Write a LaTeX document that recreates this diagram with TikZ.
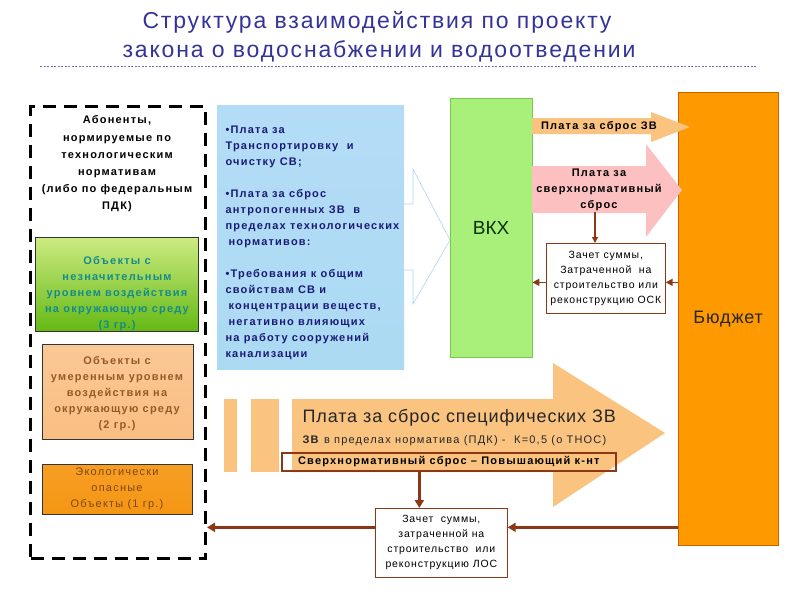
\documentclass[tikz,border=0pt]{standalone}
\usepackage{fontspec}
\setmainfont{Liberation Sans}
\newfontfamily\lsT[LetterSpace=8]{Liberation Sans}
\newfontfamily\lsB[LetterSpace=11]{Liberation Sans}
\newfontfamily\lsR[LetterSpace=8]{Liberation Sans}
\newfontfamily\lsL[LetterSpace=5]{Liberation Sans}
\usetikzlibrary{arrows.meta}
\definecolor{titleblue}{RGB}{51,51,153}
\definecolor{brn}{RGB}{140,56,20}
\definecolor{navy}{RGB}{26,26,120}
\definecolor{teal2}{RGB}{20,140,140}
\definecolor{brtext}{RGB}{150,90,40}
\definecolor{br3}{RGB}{130,70,20}
\definecolor{lorange}{RGB}{250,195,128}
\definecolor{pinkf}{RGB}{252,192,192}
\definecolor{vkxg}{RGB}{168,240,122}
\definecolor{budg}{RGB}{255,153,0}
\tikzset{
  title/.style={font=\lsT\fontsize{23}{27}\selectfont, text=titleblue},
  boxc/.style={draw, anchor=north west, inner sep=0pt},
  brarrow/.style={draw=brn, line width=1.6pt, -{Triangle[length=7pt,width=7pt]}},
  brthick/.style={draw=brn, line width=2.6pt, -{Triangle[length=8pt,width=9pt]}},
  smalltxt/.style={font=\lsR\fontsize{10.5}{15}\selectfont, align=center},
  boldtxt/.style={font=\lsB\bfseries\fontsize{11}{16}\selectfont, align=center},
}
\begin{document}
\begin{tikzpicture}[x=1pt,y=-1pt]
\useasboundingbox (0,0) rectangle (800,600);
% title
\node[title] (t1) at (377,22) {Структура взаимодействия по проекту};
\node[title] (t2) at (379,51) {закона о водоснабжении и водоотведении};
\draw[titleblue!70, line width=0.6pt, dash pattern=on 2pt off 1.5pt] (40,66) -- (757,66);

% left dashed box
\node[boxc, line width=3pt, dash pattern=on 13pt off 8pt, minimum width=175pt, minimum height=452pt] (ab) at (29,105) {};
\node[boldtxt, font=\lsB\bfseries\fontsize{11}{17.2}\selectfont] (abt) at (117,164) {Абоненты,\\нормируемые по\\технологическим\\нормативам\\(либо по федеральным\\ПДК)};

\node[boxc, draw=black!80, top color={rgb,255:red,205;green,235;blue,130}, bottom color={rgb,255:red,100;green,185;blue,20}, minimum width=163pt, minimum height=94pt] (g3) at (35,237) {};
\node[boldtxt, text=teal2] (g3t) at (117,294) {Объекты с\\незначительным\\уровнем воздействия\\на окружающую среду\\(3 гр.)};

\node[boxc, draw=black!80, top color={rgb,255:red,250;green,200;blue,150}, middle color={rgb,255:red,255;green,246;blue,236}, bottom color={rgb,255:red,250;green,190;blue,130}, minimum width=151pt, minimum height=95pt] (g2) at (42,344) {};
\node[boldtxt, text=brtext] (g2t) at (117,394) {Объекты с\\умеренным уровнем\\воздействия на\\окружающую среду\\(2 гр.)};

\node[boxc, draw=black!80, top color={rgb,255:red,246;green,158;blue,36}, middle color={rgb,255:red,255;green,248;blue,220}, bottom color={rgb,255:red,245;green,150;blue,20}, minimum width=150pt, minimum height=50pt] (g1) at (42,464) {};
\node[align=center, text=br3, font=\lsB\fontsize{11}{16}\selectfont] (g1t) at (117,489) {Экологически\\опасные\\Объекты (1 гр.)};

% blue box with arrow
\path[top color={rgb,255:red,180;green,220;blue,246}, middle color={rgb,255:red,208;green,235;blue,251}, bottom color={rgb,255:red,172;green,218;blue,243}] (217,105) rectangle (404,369);
\draw[draw={rgb,255:red,170;green,215;blue,240}, fill=white, line width=0.6pt] (404,204) -- (413,204) -- (413,169) -- (450,240) -- (413,304) -- (413,270) -- (404,270);
\node[anchor=west, align=left, text=navy, font=\lsB\bfseries\fontsize{11}{16}\selectfont] (bt) at (222,243) {•Плата за\\Транспортировку\ \ и\\очистку СВ;\\[16pt]•Плата за сброс\\антропогенных ЗВ\ \ в\\пределах технологических\\\hspace{3pt}нормативов:\\[16pt]•Требования к общим\\свойствам СВ и\\\hspace{3pt}концентрации веществ,\\\hspace{3pt}негативно влияющих\\на работу сооружений\\канализации};

% VKX and budget
\node[boxc, draw={rgb,255:red,120;green,200;blue,80}, fill=vkxg, minimum width=82pt, minimum height=259pt, font=\fontsize{19}{22}\selectfont, text={rgb,255:red,10;green,50;blue,10}] (vkx) at (450,98) {ВКХ};
\node[boxc, draw={rgb,255:red,200;green,100;blue,0}, fill=budg, minimum width=100pt, minimum height=453pt, font=\lsL\fontsize{18}{22}\selectfont, text=black!85] (bud) at (678,92) {Бюджет};

% top arrows
\path[fill=lorange] (532,118) -- (651,118) -- (651,112) -- (690,127) -- (651,142) -- (651,134) -- (532,134) -- cycle;
\node[font=\lsB\bfseries\fontsize{11}{13}\selectfont] (a1t) at (599,127) {Плата за сброс ЗВ};
\path[fill=pinkf] (532,166) -- (646,166) -- (646,144) -- (682,190) -- (646,237) -- (646,213) -- (532,213) -- cycle;
\node[boldtxt] (a2t) at (599,190) {Плата за\\сверхнормативный\\сброс};
\coordinate (pk) at (595,212);

\node[boxc, draw=brn, fill=white, line width=0.7pt, minimum width=119pt, minimum height=70pt, smalltxt] (osk) at (546,243) {Зачет суммы,\\Затраченной\ \ на\\строительство или\\реконструкцию ОСК};
\draw[brn, line width=1.3pt, -{Triangle[length=6pt,width=6pt]}] (pk) -- (pk |- osk.north);
\draw[brarrow] ([yshift=-4pt]osk.west) -- ([yshift=-4pt]osk.west -| vkx.east);
\draw[brarrow] ([yshift=-4pt]osk.east -| bud.west) -- ([yshift=-4pt]osk.east);

% big orange arrow
\fill[lorange] (224,399) rectangle (237,472);
\fill[lorange] (251,399) rectangle (279,472);
\path[fill=lorange] (292,399) -- (553,399) -- (553,363) -- (665,433) -- (553,507) -- (553,472) -- (292,472) -- cycle;
\node[anchor=west, font=\lsL\fontsize{18}{20}\selectfont, text=black!85] (bigt) at (299,418) {Плата за сброс специфических ЗВ};
\node[anchor=west, font=\lsB\fontsize{11}{12}\selectfont, text=black!85] (bigt2) at (299,441) {\textbf{ЗВ} в пределах норматива (ПДК) -\ \ К=0,5 (о ТНОС)};
\node[boxc, draw=brn, line width=1.6pt, minimum width=334pt, minimum height=18pt, font=\lsB\bfseries\fontsize{11}{13}\selectfont] (sn) at (281,452) {Сверхнормативный сброс – Повышающий к-нт};

\node[boxc, draw=brn, fill=white, line width=0.7pt, minimum width=132pt, minimum height=69pt, smalltxt] (loc) at (375,508) {Зачет\ \ суммы,\\затраченной на\\строительство\ \ или\\реконструкцию ЛОС};
\coordinate (d1) at ([xshift=-22pt]loc.north);
\draw[brthick] (d1 |- sn.south) -- (d1);
\draw[brthick] ([yshift=15.5pt]loc.west) -- ([yshift=15.5pt]loc.west -| ab.east);
\draw[brthick] ([yshift=15.5pt]loc.east -| bud.west) -- ([yshift=15.5pt]loc.east);
\end{tikzpicture}
\end{document}
